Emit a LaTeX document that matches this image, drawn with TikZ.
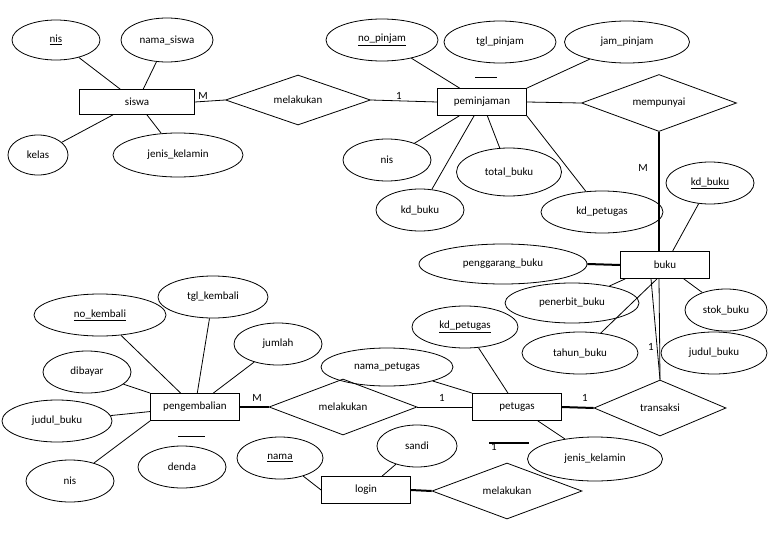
\documentclass[tikz,border=0pt]{standalone}
\usepackage{fontspec}
\setmainfont{Carlito}
\usetikzlibrary{shapes.geometric}
\begin{document}
\begin{tikzpicture}[x=1pt,y=-1pt,
  every node/.style={font=\fontsize{11}{13}\selectfont},
  ent/.style={draw,thick,rectangle,minimum width=89pt,minimum height=27pt,inner sep=0pt},
  att/.style={draw,thick,ellipse,inner sep=0pt},
  rel/.style={draw,thick,diamond,inner sep=0pt,aspect=2.6},
  ln/.style={thick},
  tk/.style={line width=2pt},
  lb/.style={inner sep=1pt}]
\useasboundingbox (0,0) rectangle (768,543);
% entities
\node[ent,minimum width=115pt,minimum height=25pt] (siswa) at (137,102) {siswa};
\node[ent] (pem) at (482,102) {peminjaman};
\node[ent] (buku) at (665,265) {buku};
\node[ent] (pet) at (517,407) {petugas};
\node[ent] (peng) at (195,407) {pengembalian};
\node[ent] (login) at (366,490) {login};
% relations
\node[rel,minimum width=145pt,minimum height=50pt] (mel1) at (298,100) {melakukan};
\node[rel,minimum width=155pt,minimum height=57pt] (mem) at (659,103) {mempunyai};
\node[rel,minimum width=132pt,minimum height=56pt] (tra) at (660,408) {transaksi};
\node[rel,minimum width=148pt,minimum height=56pt] (mel2) at (343,407) {melakukan};
\node[rel,minimum width=150pt,minimum height=56pt] (mel3) at (507,491) {melakukan};
% attributes siswa
\node[att,minimum width=88pt,minimum height=40pt] (nis1) at (56,40) {\underline{nis}};
\node[att,minimum width=92pt,minimum height=44pt] (nsis) at (167,40) {nama\_siswa};
\node[att,minimum width=60pt,minimum height=40pt] (kelas) at (38,155) {kelas};
\node[att,minimum width=130pt,minimum height=44pt] (jk1) at (178,155) {jenis\_kelamin};
% peminjaman
\node[att,minimum width=112pt,minimum height=42pt] (nop) at (382,40) {\underline{no\_pinjam}};
\node[att,minimum width=112pt,minimum height=42pt] (tglp) at (500,42) {tgl\_pinjam};
\node[att,minimum width=125pt,minimum height=42pt] (jamp) at (627,42) {jam\_pinjam};
\node[att,minimum width=88pt,minimum height=42pt] (nis2) at (387,160) {nis};
\node[att,minimum width=105pt,minimum height=48pt] (tot) at (509,172) {total\_buku};
\node[att,minimum width=88pt,minimum height=42pt] (kdb1) at (420,210) {kd\_buku};
\node[att,minimum width=122pt,minimum height=42pt] (kdp1) at (602,212) {kd\_petugas};
% buku
\node[att,minimum width=88pt,minimum height=42pt] (kdb2) at (710,183) {\underline{kd\_buku}};
\node[att,minimum width=168pt,minimum height=40pt] (pgr) at (503,264) {penggarang\_buku};
\node[att,minimum width=134pt,minimum height=40pt] (pnb) at (572,303) {penerbit\_buku};
\node[att,minimum width=82pt,minimum height=42pt] (stok) at (726,310) {stok\_buku};
\node[att,minimum width=116pt,minimum height=42pt] (thn) at (580,353) {tahun\_buku};
\node[att,minimum width=106pt,minimum height=42pt] (jdb1) at (714,353) {judul\_buku};
% petugas
\node[att,minimum width=106pt,minimum height=42pt] (kdp2) at (465,327) {\underline{kd\_petugas}};
\node[att,minimum width=132pt,minimum height=38pt] (npet) at (387,367) {nama\_petugas};
\node[att,minimum width=135pt,minimum height=44pt] (jk2) at (595,459) {jenis\_kelamin};
% pengembalian
\node[att,minimum width=132pt,minimum height=42pt] (nok) at (100,315) {\underline{no\_kembali}};
\node[att,minimum width=110pt,minimum height=42pt] (tglk) at (213,297) {tgl\_kembali};
\node[att,minimum width=88pt,minimum height=42pt] (jml) at (278,344) {jumlah};
\node[att,minimum width=88pt,minimum height=42pt] (byr) at (87,372) {dibayar};
\node[att,minimum width=110pt,minimum height=42pt] (jdb2) at (57,421) {judul\_buku};
\node[att,minimum width=88pt,minimum height=42pt] (nis3) at (70,481) {nis};
\node[att,minimum width=88pt,minimum height=42pt] (denda) at (182,467) {denda};
% login
\node[att,minimum width=86pt,minimum height=42pt] (nama) at (280,458) {\underline{nama}};
\node[att,minimum width=80pt,minimum height=42pt] (sandi) at (417,446) {sandi};
% connectors
\draw[ln] (siswa) -- (nis1);
\draw[ln] (siswa) -- (nsis);
\draw[ln] (siswa) -- (kelas);
\draw[ln] (siswa) -- (jk1);
\draw[ln] (siswa.east) -- (mel1.west);
\draw[ln] (mel1.east) -- (pem.west);
\draw[ln] (pem) -- (nop);
\draw[ln] (pem.north east) -- (jamp);
\draw[ln] (pem) -- (nis2);
\draw[ln] (pem) -- (kdb1);
\draw[ln] (pem) -- (tot);
\draw[ln] (pem.south east) -- (kdp1);
\draw[ln] (pem.east) -- (mem.west);
\draw[tk] (mem.south) -- (mem.south |- buku.north);
\draw[ln] (buku) -- (kdb2);
\draw[tk] (buku.west) -- (pgr.east);
\draw[ln] ([xshift=5pt]buku.south west) -- (pnb);
\draw[ln] ([xshift=-8pt]buku.south) -- (thn);
\draw[ln] ([xshift=-14pt]buku.south) -- (tra.north);
\draw[ln] ([xshift=-6pt]buku.south) -- (tra.north);
\draw[ln] (buku) -- (stok);
\draw[ln] (pet) -- (kdp2);
\draw[ln] (pet.north west) -- (npet);
\draw[ln] (pet) -- (jk2);
\draw[tk] (pet.east) -- (tra.west);
\draw[ln] (mel2.east) -- (pet.west);
\draw[tk] (peng.east) -- (mel2.west);
\draw[ln] (peng) -- (nok);
\draw[ln] (peng) -- (tglk);
\draw[ln] (peng) -- (jml);
\draw[ln] (peng.north west) -- (byr);
\draw[ln] (peng) -- (jdb2);
\draw[ln] (peng.south west) -- (nis3);
\draw[ln] (login.west) -- (nama);
\draw[ln] (login) -- (sandi);
\draw[tk] (login.east) -- (mel3.west);
% stray marks
\coordinate (u1a) at (475,77); \coordinate (u1b) at (497,77);
\draw[ln] (u1a) -- (u1b);
\coordinate (u2a) at (178,436); \coordinate (u2b) at (205,436);
\draw[ln] (u2a) -- (u2b);
\coordinate (u3a) at (489,443); \coordinate (u3b) at (529,443);
\draw[tk] (u3a) -- (u3b);
% labels
\node[lb] (l1) at (203,96) {M};
\node[lb] (l2) at (399,96) {1};
\node[lb] (l3) at (643,168) {M};
\node[lb] (l4) at (651,347) {1};
\node[lb] (l5) at (257,398) {M};
\node[lb] (l6) at (442,398) {1};
\node[lb] (l7) at (585,398) {1};
\node[lb] (l8) at (494,447) {1};
\end{tikzpicture}
\end{document}
